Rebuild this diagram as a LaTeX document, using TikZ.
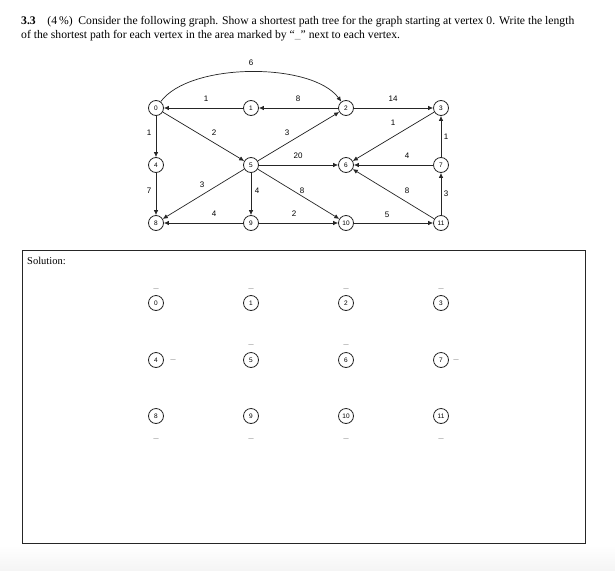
\documentclass[tikz,border=0pt]{standalone}
\usepackage{fontspec}
\setmainfont{Liberation Serif}
\setsansfont{Liberation Sans}
\usetikzlibrary{arrows.meta}
\begin{document}
\begin{tikzpicture}[x=1pt,y=-1pt,
  vtx/.style={circle,draw=black!85,line width=0.8pt,minimum size=15pt,inner sep=0pt,font=\sffamily\fontsize{6.5}{6.5}\selectfont},
  arr/.style={draw=black!85,line width=0.7pt,-{Latex[length=5pt,width=4.5pt]}},
  lbl/.style={font=\sffamily\fontsize{8}{8}\selectfont,inner sep=0pt},
  dsh/.style={font=\sffamily\fontsize{9}{9}\selectfont,text=black!40,inner sep=0pt,anchor=base},
  hdr/.style={font=\fontsize{11.65}{14}\selectfont,inner sep=0pt,anchor=base west},
]
\useasboundingbox (0,0) rectangle (615,570);
\fill[white] (0,0) rectangle (615,570);
\shade[top color=white,bottom color=black!4] (0,545) rectangle (615,570);

% header
\node[hdr] (h1) at (21,24) {\textbf{3.3}\quad(4\,\%)\enspace Consider the following graph. Show a shortest path tree for the graph starting at vertex 0. Write the length};
\node[hdr] (h2) at (21,38.5) {of the shortest path for each vertex in the area marked by “{\color{black!50}\_}” next to each vertex.};

% graph
\node[vtx] (n0) at (156,108) {0};
\node[vtx] (n1) at (251,108) {1};
\node[vtx] (n2) at (346,108) {2};
\node[vtx] (n3) at (441,108) {3};
\node[vtx] (n4) at (156,165) {4};
\node[vtx] (n5) at (251,165) {5};
\node[vtx] (n6) at (346,165) {6};
\node[vtx] (n7) at (441,165) {7};
\node[vtx] (n8) at (156,223) {8};
\node[vtx] (n9) at (251,223) {9};
\node[vtx] (n10) at (346,223) {10};
\node[vtx] (n11) at (441,223) {11};

\draw[arr] (n1) -- (n0);
\draw[arr] (n2) -- (n1);
\draw[arr] (n0) .. controls (190,62) and (312,62) .. (n2);
\draw[arr] (n2) -- (n3);
\draw[arr] (n7) -- (n3);
\draw[arr] (n3) -- (n6);
\draw[arr] (n0) -- (n4);
\draw[arr] (n0) -- (n5);
\draw[arr] (n5) -- (n2);
\draw[arr] (n5) -- (n6);
\draw[arr] (n7) -- (n6);
\draw[arr] (n11) -- (n6);
\draw[arr] (n11) -- (n7);
\draw[arr] (n4) -- (n8);
\draw[arr] (n5) -- (n8);
\draw[arr] (n5) -- (n9);
\draw[arr] (n5) -- (n10);
\draw[arr] (n9) -- (n8);
\draw[arr] (n9) -- (n10);
\draw[arr] (n10) -- (n11);

\node[lbl] (l02) at (251,63) {6};
\node[lbl] (l10) at (206,99) {1};
\node[lbl] (l21) at (298,99) {8};
\node[lbl] (l23) at (393,99) {14};
\node[lbl] (l36) at (393,123) {1};
\node[lbl] (l73) at (446,137) {1};
\node[lbl] (l04) at (149,133) {1};
\node[lbl] (l05) at (214,133) {2};
\node[lbl] (l52) at (287,133) {3};
\node[lbl] (l56) at (298,156) {20};
\node[lbl] (l76) at (407,156) {4};
\node[lbl] (l116) at (407,191) {8};
\node[lbl] (l117) at (446,194) {3};
\node[lbl] (l48) at (149,191) {7};
\node[lbl] (l58) at (202,185) {3};
\node[lbl] (l59) at (257,191) {4};
\node[lbl] (l510) at (302,191) {8};
\node[lbl] (l98) at (214,214) {4};
\node[lbl] (l910) at (294,214) {2};
\node[lbl] (l1011) at (387,215) {5};

% solution box
\draw[black!85,line width=0.9pt] (22,250) rectangle (585,543);
\node[font=\fontsize{10.5}{12}\selectfont,inner sep=0pt,anchor=base west] (sol) at (27,264) {Solution:};

\node[vtx] (s0) at (156,303) {0};
\node[vtx] (s1) at (251,303) {1};
\node[vtx] (s2) at (346,303) {2};
\node[vtx] (s3) at (441,303) {3};
\node[vtx] (s4) at (156,360) {4};
\node[vtx] (s5) at (251,360) {5};
\node[vtx] (s6) at (346,360) {6};
\node[vtx] (s7) at (441,360) {7};
\node[vtx] (s8) at (156,416) {8};
\node[vtx] (s9) at (251,416) {9};
\node[vtx] (s10) at (346,416) {10};
\node[vtx] (s11) at (441,416) {11};

\node[dsh] (d0) at (156,287.5) {\_};
\node[dsh] (d1) at (251,287.5) {\_};
\node[dsh] (d2) at (346,287.5) {\_};
\node[dsh] (d3) at (441,287.5) {\_};
\node[dsh] (d4) at (173,358.5) {\_};
\node[dsh] (d5) at (251,343.5) {\_};
\node[dsh] (d6) at (346,343.5) {\_};
\node[dsh] (d7) at (456,358.5) {\_};
\node[dsh] (d8) at (156,437.5) {\_};
\node[dsh] (d9) at (251,437.5) {\_};
\node[dsh] (d10) at (346,437.5) {\_};
\node[dsh] (d11) at (441,437.5) {\_};
\end{tikzpicture}
\end{document}
